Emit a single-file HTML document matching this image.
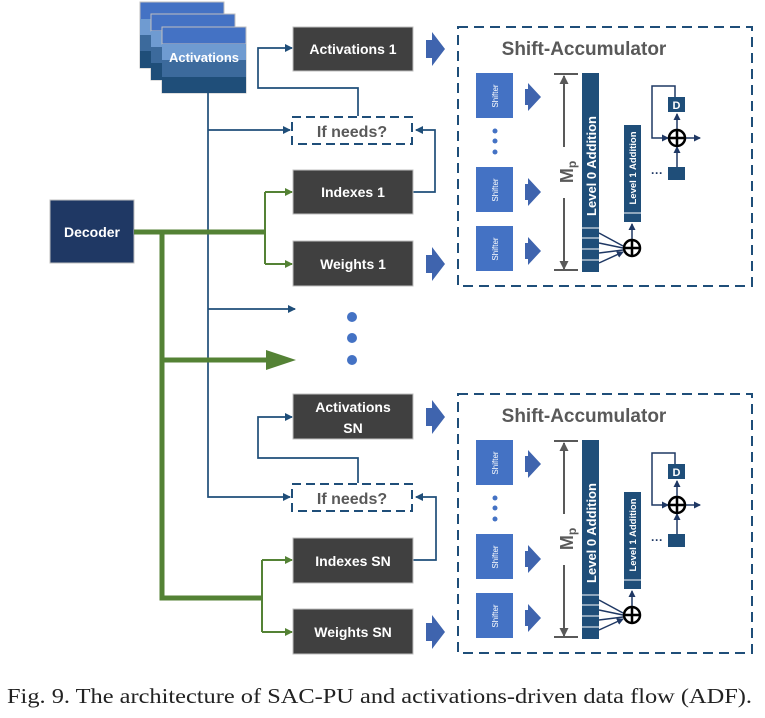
<!DOCTYPE html>
<html><head><meta charset="utf-8"><style>
html,body{margin:0;padding:0;background:#fff}
svg{display:block}
.bt{font-family:"Liberation Sans",sans-serif;font-weight:bold;fill:#fff;font-size:14px;text-anchor:middle}
</style></head><body>
<svg width="765" height="718" viewBox="0 0 765 718" xmlns="http://www.w3.org/2000/svg">
<defs>
<marker id="ab" markerWidth="8" markerHeight="8" refX="7" refY="4" orient="auto" markerUnits="userSpaceOnUse"><path d="M0,0 L8,4 L0,8z" fill="#1f4e79"/></marker>
<marker id="ag" markerWidth="8" markerHeight="8" refX="7" refY="4" orient="auto" markerUnits="userSpaceOnUse"><path d="M0,0 L8,4 L0,8z" fill="#548235"/></marker>
<marker id="an" markerWidth="7" markerHeight="7" refX="6" refY="3.5" orient="auto" markerUnits="userSpaceOnUse"><path d="M0,0 L7,3.5 L0,7z" fill="#1f3864"/></marker>
<marker id="ag2" markerWidth="9" markerHeight="9" refX="8" refY="4.5" orient="auto" markerUnits="userSpaceOnUse"><path d="M0,0 L9,4.5 L0,9z" fill="#595959"/></marker>
</defs>

<!-- activations stack -->
<g stroke="#bfbfbf" stroke-width="1">
<rect x="140" y="2" width="84" height="66" fill="#4472c4"/>
<rect x="151" y="14" width="84" height="66" fill="#4472c4"/>
<rect x="162" y="27" width="84" height="66" fill="#4472c4"/>
</g>
<rect x="140" y="19" width="84" height="16" fill="#6f9bd1"/><rect x="140" y="35" width="84" height="16" fill="#3c6a9c"/><rect x="140" y="51" width="84" height="17" fill="#1f4e79"/>
<rect x="151" y="14" width="84" height="17" fill="#4472c4" stroke="#bfbfbf"/><rect x="151" y="31" width="84" height="16" fill="#6f9bd1"/><rect x="151" y="47" width="84" height="16" fill="#3c6a9c"/><rect x="151" y="63" width="84" height="17" fill="#1f4e79"/>
<rect x="162" y="27" width="84" height="17" fill="#4472c4" stroke="#bfbfbf"/><rect x="162" y="44" width="84" height="16" fill="#6f9bd1"/><rect x="162" y="60" width="84" height="17" fill="#3c6a9c"/><rect x="162" y="77" width="84" height="16" fill="#1f4e79"/>
<text x="204" y="62" font-family="Liberation Sans,sans-serif" font-weight="bold" font-size="13" fill="#fff" text-anchor="middle">Activations</text>

<!-- Decoder -->
<rect x="50" y="200" width="84" height="63" fill="#1f3864" stroke="#bfbfbf"/>
<text x="92" y="237" class="bt">Decoder</text>

<!-- blue lines -->
<g fill="none" stroke="#1f4e79" stroke-width="1.7">
<path d="M208,93 V497 H290" marker-end="url(#ab)"/>
<path d="M208,130 H290" marker-end="url(#ab)"/>
<path d="M208,309 H295" marker-end="url(#ab)"/>
<path d="M413,192 H435 V130 H416" marker-end="url(#ab)"/>
<path d="M358,116 V88 H258 V48 H292" marker-end="url(#ab)"/>
<path d="M413,560 H436 V497 H416" marker-end="url(#ab)"/>
<path d="M358,483 V458 H258 V417 H292" marker-end="url(#ab)"/>
</g>
<!-- green lines -->
<g fill="none" stroke="#548235">
<path d="M134,232 H265" stroke-width="5"/>
<path d="M162,232 V598 H262" stroke-width="5"/>
<path d="M162,360 H270" stroke-width="5"/>
<path d="M265,192 V264" stroke-width="2"/>
<path d="M265,192 H292" stroke-width="2" marker-end="url(#ag)"/>
<path d="M265,264 H292" stroke-width="2" marker-end="url(#ag)"/>
<path d="M262,560 V632" stroke-width="2"/>
<path d="M262,560 H292" stroke-width="2" marker-end="url(#ag)"/>
<path d="M262,632 H292" stroke-width="2" marker-end="url(#ag)"/>
</g>
<path d="M266,350 L296,360 L266,370z" fill="#548235"/>
<g fill="#4472c4"><circle cx="352" cy="317" r="5"/><circle cx="352" cy="338" r="5"/><circle cx="352" cy="360" r="5"/></g>

<!-- dark boxes -->
<g fill="#404040" stroke="#bfbfbf">
<rect x="293" y="27" width="120" height="44"/>
<rect x="293" y="170" width="120" height="44"/>
<rect x="293" y="241" width="120" height="45"/>
<rect x="293" y="394" width="120" height="45"/>
<rect x="293" y="538" width="120" height="45"/>
<rect x="293" y="609" width="120" height="45"/>
</g>
<text x="353" y="54" class="bt">Activations 1</text>
<text x="353" y="197" class="bt">Indexes 1</text>
<text x="353" y="269" class="bt">Weights 1</text>
<text x="353" y="412" class="bt">Activations</text>
<text x="353" y="433" class="bt">SN</text>
<text x="353" y="566" class="bt">Indexes SN</text>
<text x="353" y="637" class="bt">Weights SN</text>
<!-- if needs -->
<g fill="none" stroke="#1f4e79" stroke-width="2" stroke-dasharray="9,5">
<rect x="292" y="117" width="120" height="27"/>
<rect x="292" y="484" width="120" height="27"/>
</g>
<g font-family="Liberation Sans,sans-serif" font-weight="bold" font-size="16" fill="#595959" text-anchor="middle">
<text x="352" y="137">If needs?</text><text x="352" y="504">If needs?</text></g>

<!-- block arrows -->
<g fill="#3f64ae">
<path d="M426,40 h6 v-8 l13,17 l-13,17 v-8 h-6z"/>
<path d="M426,255 h6 v-8 l13,17 l-13,17 v-8 h-6z"/>
<path d="M426,408 h6 v-8 l13,17 l-13,17 v-8 h-6z"/>
<path d="M426,623 h6 v-8 l13,17 l-13,17 v-8 h-6z"/>
</g>

<!-- accumulators -->
<g>
<rect x="458" y="27" width="294" height="259" fill="none" stroke="#1f4e79" stroke-width="2" stroke-dasharray="10,6"/>
<text x="584" y="55" font-family="Liberation Sans,sans-serif" font-weight="bold" font-size="19" fill="#595959" text-anchor="middle">Shift-Accumulator</text>
<g fill="#4472c4"><rect x="476" y="73" width="37" height="45"/><rect x="476" y="167" width="37" height="45"/><rect x="476" y="226" width="37" height="45"/>
<circle cx="495" cy="131" r="2.5"/><circle cx="495" cy="141" r="2.5"/><circle cx="495" cy="152" r="2.5"/></g>
<g font-family="Liberation Sans,sans-serif" font-size="8" fill="#fff" text-anchor="middle">
<text transform="translate(498,96) rotate(-90)">Shifter</text><text transform="translate(498,190) rotate(-90)">Shifter</text><text transform="translate(498,249) rotate(-90)">Shifter</text></g>
<g fill="#3f64ae"><path d="M525,89 h3 v-6 l13,14 l-13,14 v-6 h-3z"/><path d="M525,184 h3 v-6 l13,14 l-13,14 v-6 h-3z"/><path d="M525,243 h3 v-6 l13,14 l-13,14 v-6 h-3z"/></g>
<g stroke="#595959" stroke-width="2" fill="none"><path d="M554,74 H578 M554,270 H578"/><path d="M564,147 V76" marker-end="url(#ag2)"/><path d="M564,198 V269" marker-end="url(#ag2)"/></g>
<text transform="translate(573,172) rotate(-90)" font-family="Liberation Sans,sans-serif" font-weight="bold" font-size="18" fill="#595959" text-anchor="middle">M<tspan font-size="12" dy="3">p</tspan></text>
<rect x="582" y="73" width="17" height="199" fill="#1f4e79"/>
<g stroke="#fff" stroke-width="1"><path d="M582,228 H599 M582,238 H599 M582,249 H599 M582,260 H599"/></g>
<text transform="translate(596,166) rotate(-90)" font-family="Liberation Sans,sans-serif" font-weight="bold" font-size="13" fill="#fff" text-anchor="middle">Level 0 Addition</text>
<rect x="624" y="125" width="17" height="97" fill="#1f4e79"/>
<path d="M624,213 H641" stroke="#fff"/>
<text transform="translate(636,168) rotate(-90)" font-family="Liberation Sans,sans-serif" font-weight="bold" font-size="9.5" fill="#fff" text-anchor="middle">Level 1 Addition</text>
<g stroke="#1f3864" stroke-width="1.5" fill="none">
<path d="M599,233 L623,246 M599,243 L623,248 M599,253 L623,250 M599,263 L623,252" marker-end="url(#an)"/>
<path d="M632,240 V224" marker-end="url(#an)"/>
<path d="M677,168 V147" marker-end="url(#an)"/>
<path d="M677,130 V114" marker-end="url(#an)"/>
<path d="M675,97 V86 H652 V138 H668" marker-end="url(#an)"/>
<path d="M686,138 H700" marker-end="url(#an)"/>
</g>
<g fill="none" stroke="#000" stroke-width="2.5"><circle cx="632" cy="248" r="8"/><path d="M624,248 H640 M632,240 V256"/><circle cx="677" cy="138" r="8"/><path d="M669,138 H685 M677,130 V146"/></g>
<rect x="668" y="97" width="17" height="15" fill="#1f4e79"/>
<text x="676.5" y="109" font-family="Liberation Sans,sans-serif" font-weight="bold" font-size="11" fill="#fff" text-anchor="middle">D</text>
<rect x="668" y="167" width="17" height="13" fill="#1f4e79"/>
<text x="657" y="177" font-family="Liberation Sans,sans-serif" font-weight="bold" font-size="12" fill="#1f3864" text-anchor="middle">···</text>
</g>
<g transform="translate(0,367)">
<rect x="458" y="27" width="294" height="259" fill="none" stroke="#1f4e79" stroke-width="2" stroke-dasharray="10,6"/>
<text x="584" y="55" font-family="Liberation Sans,sans-serif" font-weight="bold" font-size="19" fill="#595959" text-anchor="middle">Shift-Accumulator</text>
<g fill="#4472c4"><rect x="476" y="73" width="37" height="45"/><rect x="476" y="167" width="37" height="45"/><rect x="476" y="226" width="37" height="45"/>
<circle cx="495" cy="131" r="2.5"/><circle cx="495" cy="141" r="2.5"/><circle cx="495" cy="152" r="2.5"/></g>
<g font-family="Liberation Sans,sans-serif" font-size="8" fill="#fff" text-anchor="middle">
<text transform="translate(498,96) rotate(-90)">Shifter</text><text transform="translate(498,190) rotate(-90)">Shifter</text><text transform="translate(498,249) rotate(-90)">Shifter</text></g>
<g fill="#3f64ae"><path d="M525,89 h3 v-6 l13,14 l-13,14 v-6 h-3z"/><path d="M525,184 h3 v-6 l13,14 l-13,14 v-6 h-3z"/><path d="M525,243 h3 v-6 l13,14 l-13,14 v-6 h-3z"/></g>
<g stroke="#595959" stroke-width="2" fill="none"><path d="M554,74 H578 M554,270 H578"/><path d="M564,147 V76" marker-end="url(#ag2)"/><path d="M564,198 V269" marker-end="url(#ag2)"/></g>
<text transform="translate(573,172) rotate(-90)" font-family="Liberation Sans,sans-serif" font-weight="bold" font-size="18" fill="#595959" text-anchor="middle">M<tspan font-size="12" dy="3">p</tspan></text>
<rect x="582" y="73" width="17" height="199" fill="#1f4e79"/>
<g stroke="#fff" stroke-width="1"><path d="M582,228 H599 M582,238 H599 M582,249 H599 M582,260 H599"/></g>
<text transform="translate(596,166) rotate(-90)" font-family="Liberation Sans,sans-serif" font-weight="bold" font-size="13" fill="#fff" text-anchor="middle">Level 0 Addition</text>
<rect x="624" y="125" width="17" height="97" fill="#1f4e79"/>
<path d="M624,213 H641" stroke="#fff"/>
<text transform="translate(636,168) rotate(-90)" font-family="Liberation Sans,sans-serif" font-weight="bold" font-size="9.5" fill="#fff" text-anchor="middle">Level 1 Addition</text>
<g stroke="#1f3864" stroke-width="1.5" fill="none">
<path d="M599,233 L623,246 M599,243 L623,248 M599,253 L623,250 M599,263 L623,252" marker-end="url(#an)"/>
<path d="M632,240 V224" marker-end="url(#an)"/>
<path d="M677,168 V147" marker-end="url(#an)"/>
<path d="M677,130 V114" marker-end="url(#an)"/>
<path d="M675,97 V86 H652 V138 H668" marker-end="url(#an)"/>
<path d="M686,138 H700" marker-end="url(#an)"/>
</g>
<g fill="none" stroke="#000" stroke-width="2.5"><circle cx="632" cy="248" r="8"/><path d="M624,248 H640 M632,240 V256"/><circle cx="677" cy="138" r="8"/><path d="M669,138 H685 M677,130 V146"/></g>
<rect x="668" y="97" width="17" height="15" fill="#1f4e79"/>
<text x="676.5" y="109" font-family="Liberation Sans,sans-serif" font-weight="bold" font-size="11" fill="#fff" text-anchor="middle">D</text>
<rect x="668" y="167" width="17" height="13" fill="#1f4e79"/>
<text x="657" y="177" font-family="Liberation Sans,sans-serif" font-weight="bold" font-size="12" fill="#1f3864" text-anchor="middle">···</text>
</g>

<text x="7" y="703" font-family="Liberation Serif,serif" font-size="21" fill="#222" textLength="745" lengthAdjust="spacingAndGlyphs">Fig. 9.   The architecture of SAC-PU and activations-driven data flow (ADF).</text>
</svg>
</body></html>
